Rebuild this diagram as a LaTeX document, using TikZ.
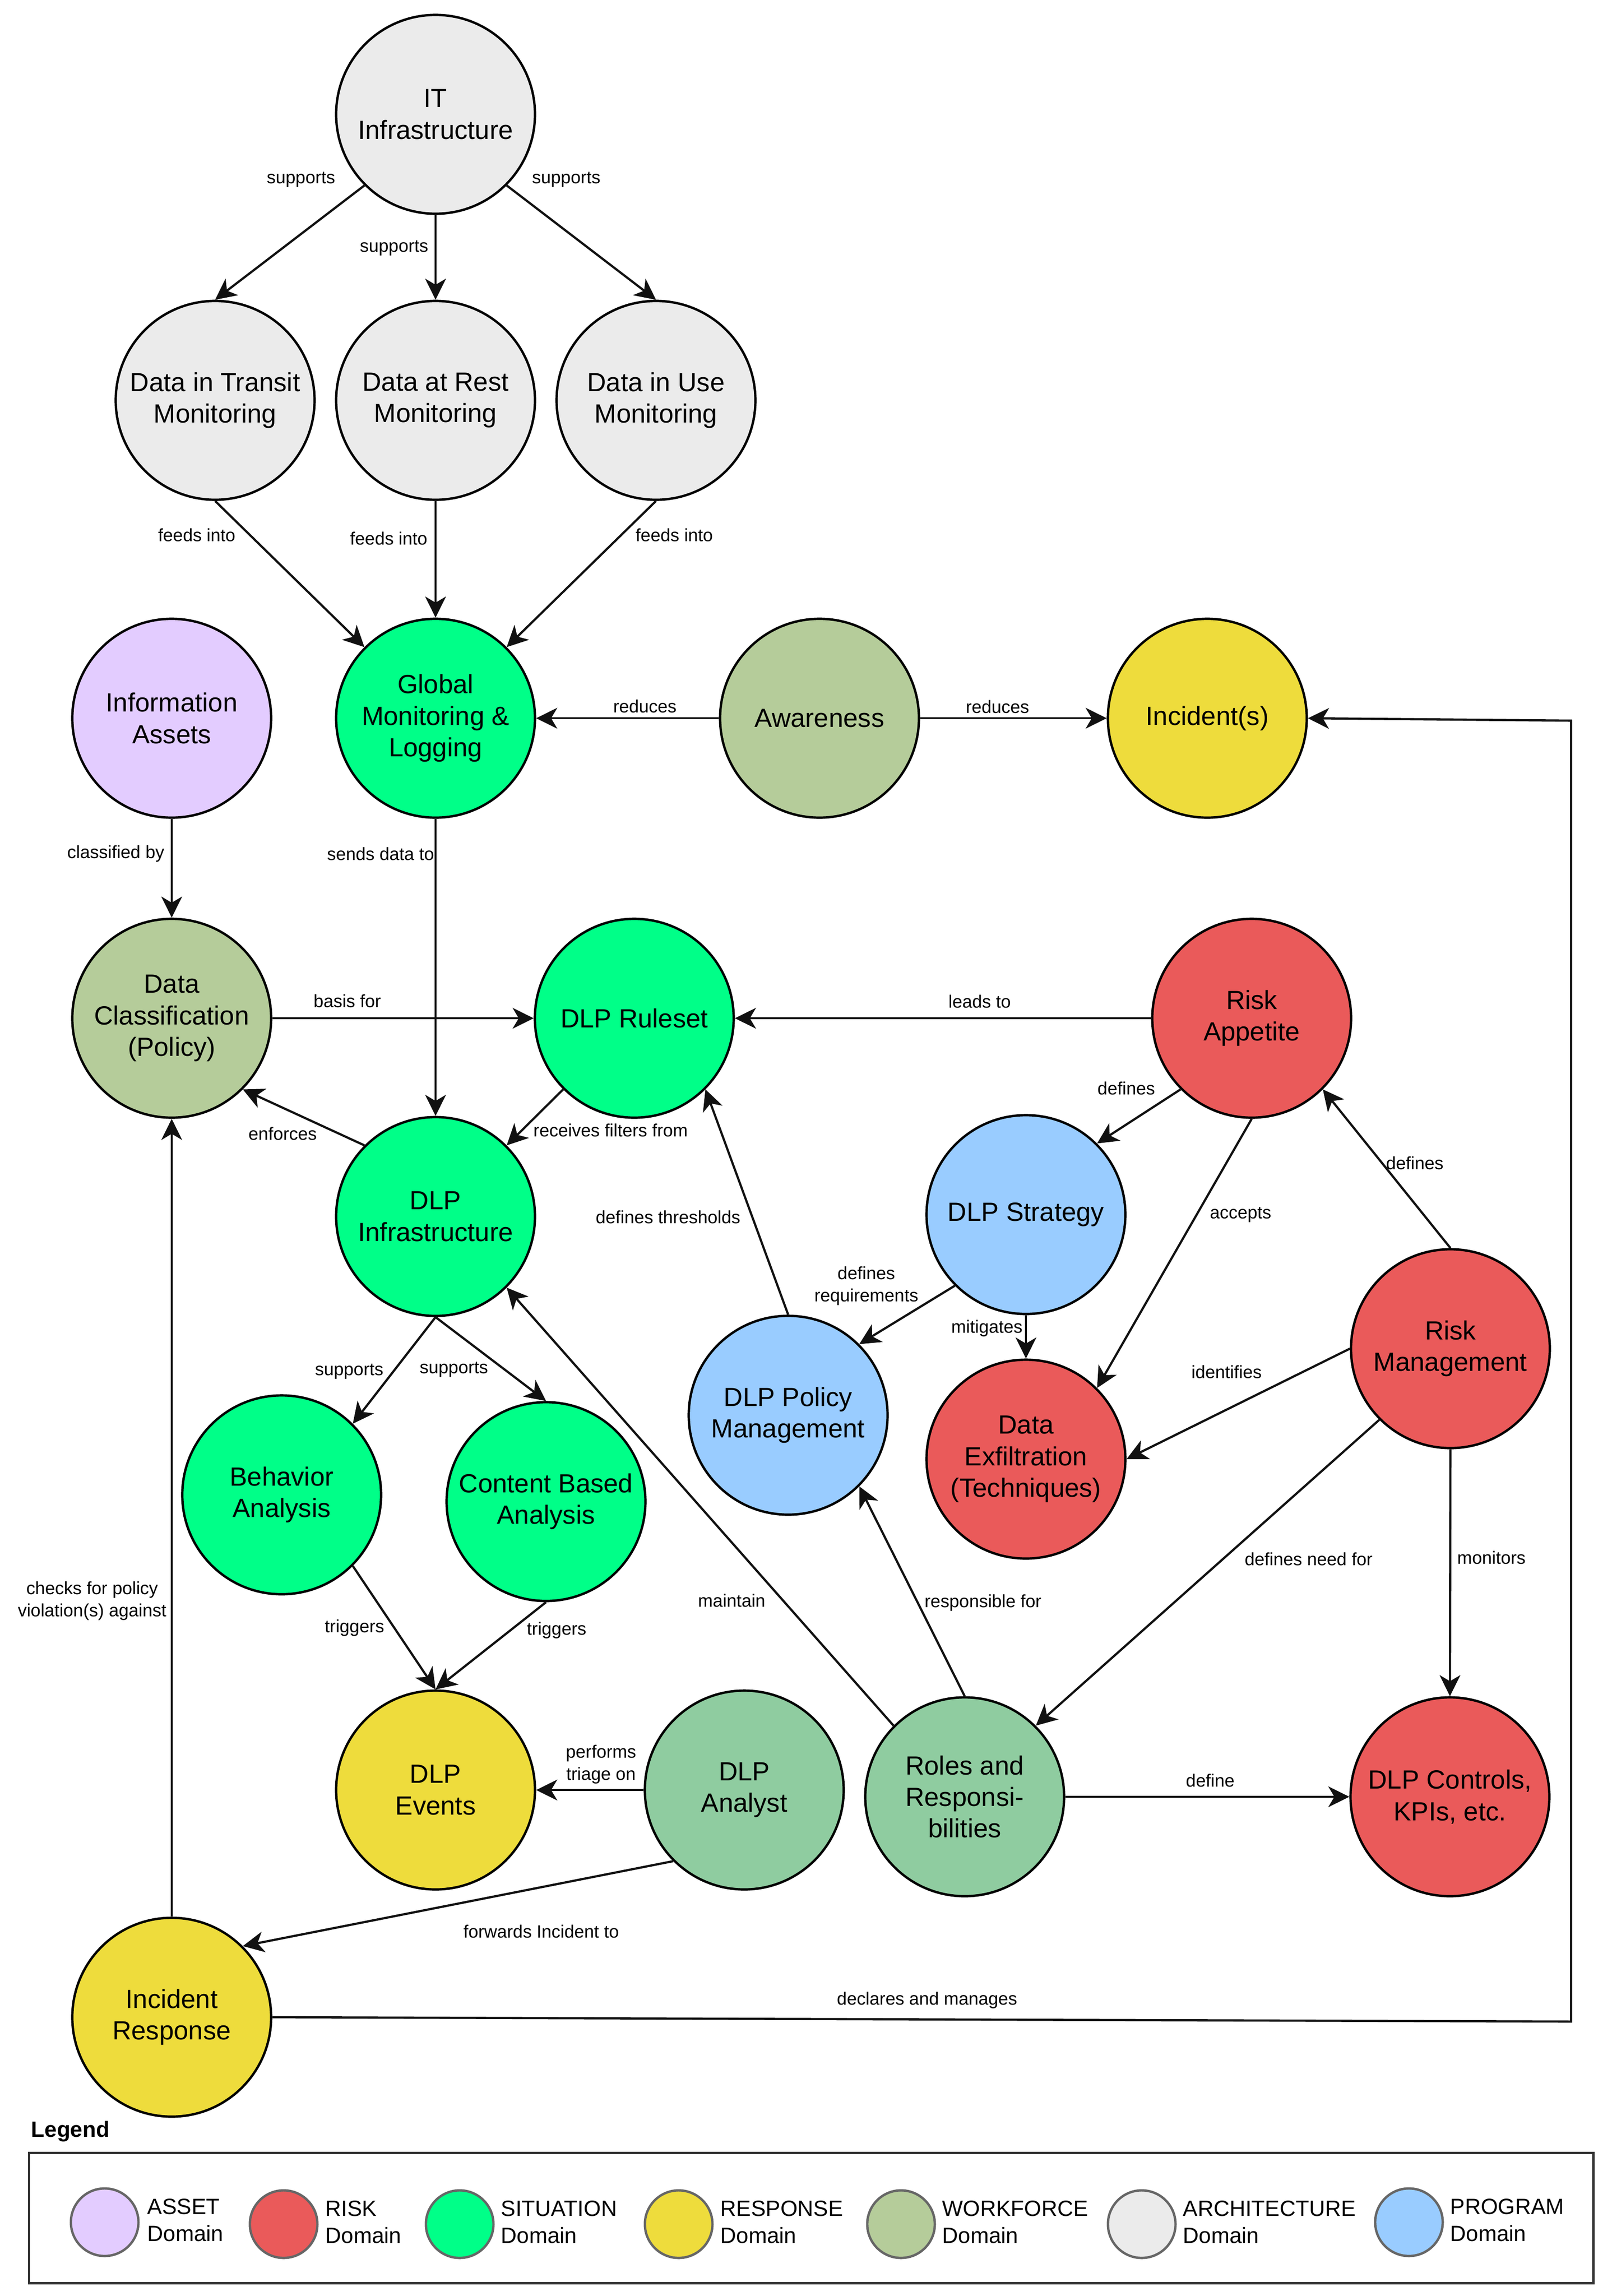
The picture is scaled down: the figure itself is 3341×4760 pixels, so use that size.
\documentclass[tikz,border=0pt]{standalone}
\usepackage{fontspec}
\setmainfont{Liberation Sans}
\usetikzlibrary{arrows.meta}
\definecolor{assetc}{HTML}{E3CCFF}
\definecolor{riskc}{HTML}{EA5A5A}
\definecolor{sitc}{HTML}{00FF88}
\definecolor{respc}{HTML}{EEDC3C}
\definecolor{workc}{HTML}{B5CC9A}
\definecolor{workbc}{HTML}{8FCCA0}
\definecolor{archc}{HTML}{EBEBEB}
\definecolor{progc}{HTML}{99CCFF}
\definecolor{legedge}{HTML}{666666}
\definecolor{boxedge}{HTML}{333333}
\definecolor{linec}{HTML}{111111}
\begin{document}
\begin{tikzpicture}[x=0.01cm,y=-0.01cm,
  dom/.style={circle, draw=black, line width=1.4pt, minimum size=4.12cm, inner sep=0pt, align=center, font=\fontsize{15.5}{18.6}\selectfont},
  arr/.style={draw=linec, line width=1.3pt, -{Stealth[length=12.4pt,width=12.2pt,inset=3.6pt]}},
  lbl/.style={font=\fontsize{10.5}{13}\selectfont, align=center, inner sep=0pt},
  legc/.style={circle, draw=legedge, line width=1.4pt, minimum size=1.4cm, inner sep=0pt},
  legt/.style={anchor=west, align=left, inner sep=0pt, font=\fontsize{13}{16}\selectfont}
]
\path[use as bounding box] (0,0) rectangle (3341,4760);

% nodes
\node[dom, fill=archc] (it) at (903,237) {IT\\Infrastructure};
\node[dom, fill=archc] (dit) at (446,830) {Data in Transit\\Monitoring};
\node[dom, fill=archc] (dar) at (903,830) {Data at Rest\\Monitoring};
\node[dom, fill=archc] (diu) at (1360,830) {Data in Use\\Monitoring};
\node[dom, fill=assetc] (ia) at (356,1489) {Information\\Assets};
\node[dom, fill=sitc] (gml) at (903,1489) {Global\\Monitoring \&\\Logging};
\node[dom, fill=workc] (aw) at (1699,1489) {Awareness};
\node[dom, fill=respc] (inc) at (2503,1489) {Incident(s)};
\node[dom, fill=workc] (dc) at (356,2111) {Data\\Classification\\(Policy)};
\node[dom, fill=sitc] (rs) at (1315,2111) {DLP Ruleset};
\node[dom, fill=riskc] (ra) at (2595,2111) {Risk\\Appetite};
\node[dom, fill=sitc] (dinf) at (903,2522) {DLP\\Infrastructure};
\node[dom, fill=progc] (strat) at (2127,2518) {DLP Strategy};
\node[dom, fill=riskc] (rm) at (3007,2796) {Risk\\Management};
\node[dom, fill=progc] (pm) at (1634,2934) {DLP Policy\\Management};
\node[dom, fill=riskc] (de) at (2127,3025) {Data\\Exfiltration\\(Techniques)};
\node[dom, fill=sitc] (beh) at (584,3099) {Behavior\\Analysis};
\node[dom, fill=sitc] (cba) at (1132,3113) {Content Based\\Analysis};
\node[dom, fill=respc] (ev) at (903,3711) {DLP\\Events};
\node[dom, fill=workbc] (an) at (1543,3711) {DLP\\Analyst};
\node[dom, fill=workbc] (roles) at (2000,3725) {Roles and\\Responsi-\\bilities};
\node[dom, fill=riskc] (ctl) at (3006,3725) {DLP Controls,\\KPIs, etc.};
\node[dom, fill=respc] (ir) at (356,4182) {Incident\\Response};

\coordinate (c1) at (3257,4191);
\coordinate (c2) at (3257,1494);

% connectors
\draw[arr] (it.south west) -- (dit.north);
\draw[arr] (it.south) -- (dar.north);
\draw[arr] (it.south east) -- (diu.north);
\draw[arr] (dit.south) -- (gml.north west);
\draw[arr] (dar.south) -- (gml.north);
\draw[arr] (diu.south) -- (gml.north east);
\draw[arr] (aw.west) -- (gml.east);
\draw[arr] (aw.east) -- (inc.west);
\draw[arr] (ia.south) -- (dc.north);
\draw[arr] (gml.south) -- (dinf.north);
\draw[arr] (dc.east) -- (rs.west);
\draw[arr] (ra.west) -- (rs.east);
\draw[arr] (rs.south west) -- (dinf.north east);
\draw[arr] (dinf.north west) -- (dc.south east);
\draw[arr] (ra.south west) -- (strat.north east);
\draw[arr] (ra.south) -- (de.north east);
\draw[arr] (rm.north) -- (ra.south east);
\draw[arr] (strat.south west) -- (pm.north east);
\draw[arr] (strat.south) -- (de.north);
\draw[arr] (pm.north) -- (rs.south east);
\draw[arr] (rm.west) -- (de.east);
\draw[arr] (rm.south west) -- (roles.north east);
\draw[arr] (rm.south) -- (ctl.north);
\draw[arr] (dinf.south) -- (beh.north east);
\draw[arr] (dinf.south) -- (cba.north);
\draw[arr] (beh.south east) -- (ev.north);
\draw[arr] (cba.south) -- (ev.north);
\draw[arr] (an.west) -- (ev.east);
\draw[arr] (roles.north west) -- (dinf.south east);
\draw[arr] (roles.north) -- (pm.south east);
\draw[arr] (roles.east) -- (ctl.west);
\draw[arr] (an.south west) -- (ir.north east);
\draw[arr] (ir.north) -- (dc.south);
\draw[arr] (ir.east) -- (c1) -- (c2) -- (inc.east);

% connector labels
\node[lbl] (l1) at (624,372) {supports};
\node[lbl] (l2) at (817,514) {supports};
\node[lbl] (l3) at (1174,372) {supports};
\node[lbl] (l4) at (408,1109) {feeds into};
\node[lbl] (l5) at (806,1116) {feeds into};
\node[lbl] (l6) at (1398,1109) {feeds into};
\node[lbl] (l7) at (1337,1464) {reduces};
\node[lbl] (l8) at (2068,1465) {reduces};
\node[lbl] (l9) at (240,1770) {classified by};
\node[lbl] (l10) at (789,1770) {sends data to};
\node[lbl] (l11) at (720,2075) {basis for};
\node[lbl] (l12) at (2031,2076) {leads to};
\node[lbl] (l13) at (586,2350) {enforces};
\node[lbl] (l14) at (1266,2343) {receives filters from};
\node[lbl] (l15) at (2335,2256) {defines};
\node[lbl] (l16) at (2572,2518) {accepts};
\node[lbl] (l17) at (2933,2411) {defines};
\node[lbl] (l18) at (1385,2523) {defines thresholds};
\node[lbl] (l19) at (1796,2666) {defines\\requirements};
\node[lbl] (l20) at (2046,2754) {mitigates};
\node[lbl] (l21) at (2543,2844) {identifies};
\node[lbl] (l22) at (724,2843) {supports};
\node[lbl] (l23) at (941,2839) {supports};
\node[lbl] (l24) at (191,3319) {checks for policy\\violation(s) against};
\node[lbl] (l25) at (735,3375) {triggers};
\node[lbl] (l26) at (1154,3380) {triggers};
\node[lbl] (l27) at (1517,3318) {maintain};
\node[lbl] (l28) at (2038,3323) {responsible for};
\node[lbl] (l29) at (2713,3232) {defines need for};
\node[lbl] (l30) at (3092,3229) {monitors};
\node[lbl] (l31) at (1246,3658) {performs\\triage on};
\node[lbl] (l32) at (2509,3691) {define};
\node[lbl] (l33) at (1122,4004) {forwards Incident to};
\node[lbl] (l34) at (1922,4147) {declares and manages};

% legend
\node[anchor=base west, inner sep=0pt, font=\fontsize{13}{16}\selectfont\bfseries] (legtitle) at (64,4430) {Legend};
\draw[draw=boxedge, line width=1.4pt] (60,4463) rectangle (3303,4733);
\node[legc, fill=assetc] (g1) at (217,4607) {};
\node[legt] (t1) at (305,4603) {ASSET\\Domain};
\node[legc, fill=riskc] (g2) at (588,4611) {};
\node[legt] (t2) at (674,4607) {RISK\\Domain};
\node[legc, fill=sitc] (g3) at (953,4611) {};
\node[legt] (t3) at (1038,4607) {SITUATION\\Domain};
\node[legc, fill=respc] (g4) at (1407,4611) {};
\node[legt] (t4) at (1493,4607) {RESPONSE\\Domain};
\node[legc, fill=workc] (g5) at (1868,4611) {};
\node[legt] (t5) at (1953,4607) {WORKFORCE\\Domain};
\node[legc, fill=archc] (g6) at (2367,4611) {};
\node[legt] (t6) at (2452,4607) {ARCHITECTURE\\Domain};
\node[legc, fill=progc] (g7) at (2921,4607) {};
\node[legt] (t7) at (3006,4603) {PROGRAM\\Domain};
\end{tikzpicture}
\end{document}
